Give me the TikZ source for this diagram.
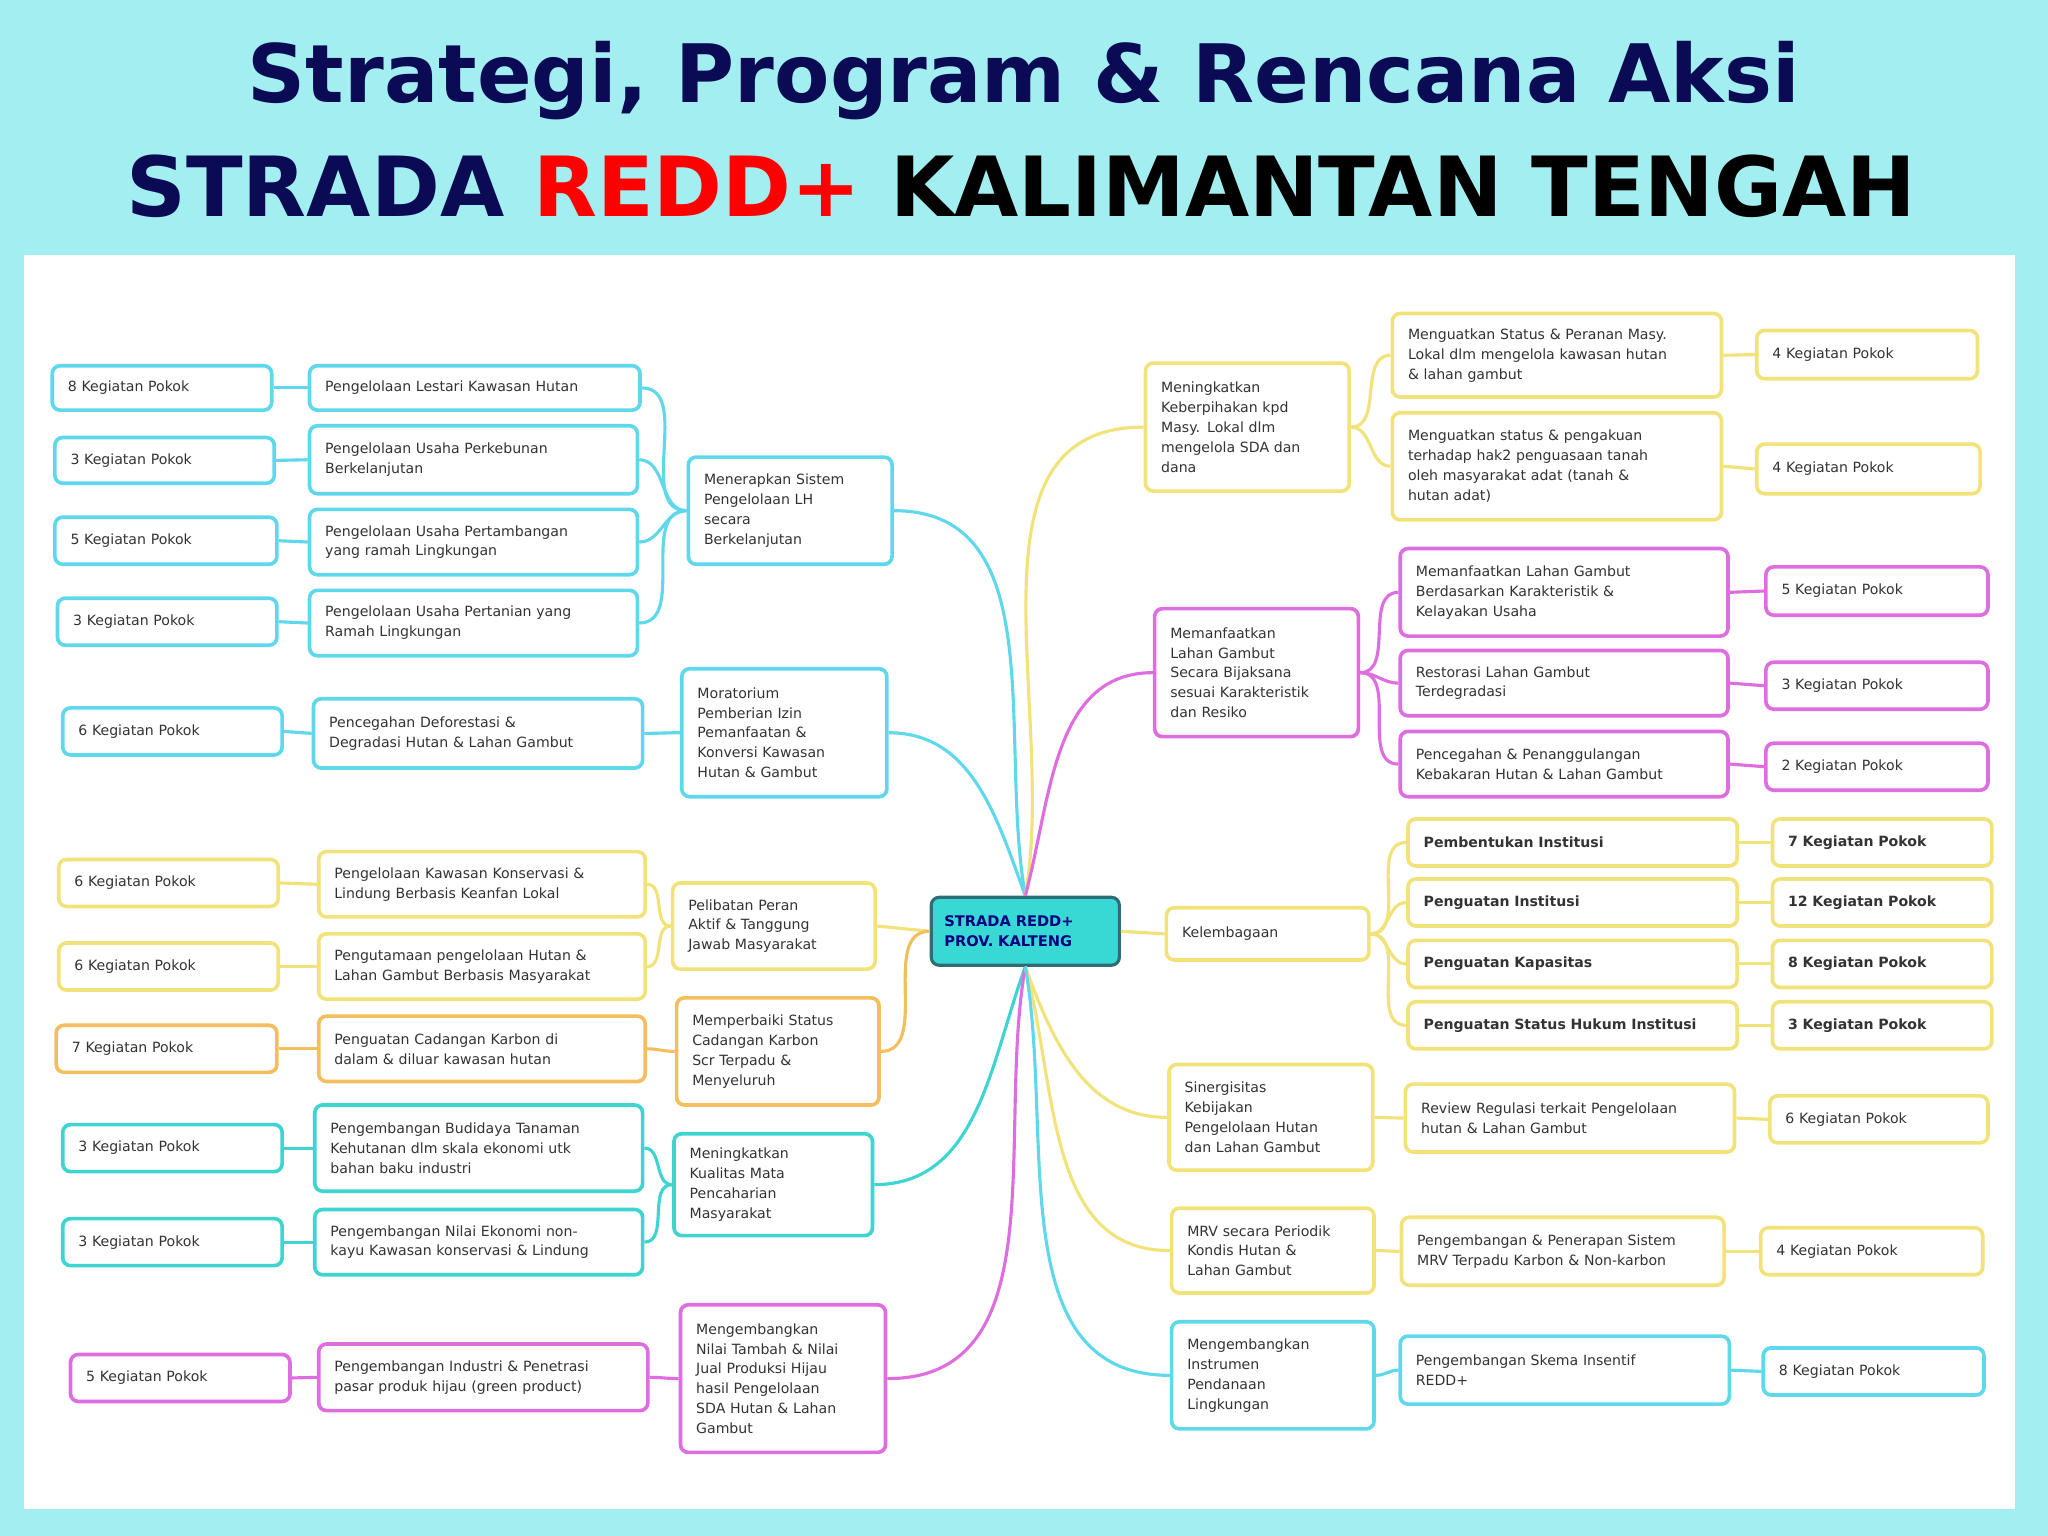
\documentclass[tikz,border=0pt]{standalone}
\usepackage{fontspec}
\setmainfont{DejaVu Sans}
\usepackage{graphicx}
\definecolor{bgc}{HTML}{A2EEF0}
\definecolor{cy}{HTML}{5ED8EA}
\definecolor{ye}{HTML}{F2E27A}
\definecolor{ma}{HTML}{DE6EE0}
\definecolor{orr}{HTML}{F3BE5E}
\definecolor{te}{HTML}{3ED4D0}
\definecolor{navy}{HTML}{0B0B55}
\definecolor{tx}{HTML}{333333}
\tikzset{
 bx/.style={draw=#1, line width=1.4pt, rounded corners=3pt, fill=white, align=left,
   inner xsep=6pt, inner ysep=2pt, text=tx, font=\fontsize{5.4}{7.6}\selectfont},
 ln/.style={draw=#1, line width=1.2pt},
}
\newcommand\bx[7]{\node[bx=#6, text width={(#4-#2)*0.5pt-12pt}, minimum height={(#5-#3)*0.5pt}]
  (#1) at ({(#2+#4)/2},{(#3+#5)/2}) {#7};}
\begin{document}
\begin{tikzpicture}[x=0.5pt,y=-0.5pt]
\useasboundingbox (0,0) rectangle (1568,1176);
\fill[bgc] (0,0) rectangle (1568,1176);
\fill[white] (18,195) rectangle (1543,1155);
\node[text=navy] (t1) at (784,62) {\resizebox{594pt}{!}{\bfseries Strategi, Program \& Rencana Aksi}};
\node (t2) at (782,143) {\resizebox{685pt}{!}{\bfseries\textcolor{navy}{STRADA} \textcolor{red}{REDD+} \textcolor{black}{KALIMANTAN TENGAH}}};
% center
\node[draw=cy!50!black, line width=1.2pt, rounded corners=3pt, fill=te!90!cyan, align=left, text=blue!50!black,
  font=\fontsize{5.6}{7.6}\selectfont\bfseries, minimum width=72pt, minimum height=26pt, text width=62pt] (c) at (785,713) {STRADA REDD+\\PROV. KALTENG};
% left
\bx{s1}{527}{350}{683}{432}{cy}{Menerapkan Sistem\\Pengelolaan LH\\secara\\Berkelanjutan}
\bx{s2}{522}{512}{679}{610}{cy}{Moratorium\\Pemberian Izin\\Pemanfaatan \&\\Konversi Kawasan\\Hutan \& Gambut}
\bx{s3}{515}{676}{670}{742}{ye}{Pelibatan Peran\\Aktif \& Tanggung\\Jawab Masyarakat}
\bx{s4}{518}{764}{673}{846}{orr}{Memperbaiki Status\\Cadangan Karbon\\Scr Terpadu \&\\Menyeluruh}
\bx{s5}{516}{868}{668}{946}{te}{Meningkatkan\\Kualitas Mata\\Pencaharian\\Masyarakat}
\bx{s6}{521}{999}{678}{1112}{ma}{Mengembangkan\\Nilai Tambah \& Nilai\\Jual Produksi Hijau\\hasil Pengelolaan\\SDA Hutan \& Lahan\\Gambut}
\draw[ln=cy] (c.north) to[out=100,in=0] (s1.east);
\draw[ln=cy] (c.north) to[out=110,in=0] (s2.east);
\draw[ln=ye] (c.west) -- (s3.east);
\draw[ln=orr] (c.west) to[out=180,in=0] (s4.east);
\draw[ln=te] (c.south) to[out=250,in=0] (s5.east);
\draw[ln=ma] (c.south) to[out=260,in=0] (s6.east);
\def\lp#1#2#3#4#5#6#7#8#9{\bx{#1}{#3}{#4}{#5}{#6}{#8}{#9}}
\bx{p1}{237}{280}{490}{314}{cy}{Pengelolaan Lestari Kawasan Hutan}
\bx{p2}{237}{326}{488}{378}{cy}{Pengelolaan Usaha Perkebunan\\Berkelanjutan}
\bx{p3}{237}{390}{488}{440}{cy}{Pengelolaan Usaha Pertambangan\\yang ramah Lingkungan}
\bx{p4}{237}{452}{488}{502}{cy}{Pengelolaan Usaha Pertanian yang\\Ramah Lingkungan}
\bx{p5}{240}{535}{492}{588}{cy}{Pencegahan Deforestasi \&\\Degradasi Hutan \& Lahan Gambut}
\bx{p6}{244}{652}{494}{702}{ye}{Pengelolaan Kawasan Konservasi \&\\Lindung Berbasis Keanfan Lokal}
\bx{p7}{244}{715}{494}{765}{ye}{Pengutamaan pengelolaan Hutan \&\\Lahan Gambut Berbasis Masyarakat}
\bx{p8}{244}{778}{494}{828}{orr}{Penguatan Cadangan Karbon di\\dalam \& diluar kawasan hutan}
\bx{p9}{241}{846}{492}{912}{te}{Pengembangan Budidaya Tanaman\\Kehutanan dlm skala ekonomi utk\\bahan baku industri}
\bx{p10}{241}{926}{492}{976}{te}{Pengembangan Nilai Ekonomi non-\\kayu Kawasan konservasi \& Lindung}
\bx{p11}{244}{1029}{496}{1080}{ma}{Pengembangan Industri \& Penetrasi\\pasar produk hijau (green product)}
\bx{k1}{40}{280}{208}{314}{cy}{8 Kegiatan Pokok}
\bx{k2}{42}{335}{210}{370}{cy}{3 Kegiatan Pokok}
\bx{k3}{42}{396}{212}{432}{cy}{5 Kegiatan Pokok}
\bx{k4}{44}{458}{212}{494}{cy}{3 Kegiatan Pokok}
\bx{k5}{48}{542}{216}{578}{cy}{6 Kegiatan Pokok}
\bx{k6}{45}{658}{213}{694}{ye}{6 Kegiatan Pokok}
\bx{k7}{45}{722}{213}{758}{ye}{6 Kegiatan Pokok}
\bx{k8}{43}{785}{212}{821}{orr}{7 Kegiatan Pokok}
\bx{k9}{48}{861}{216}{897}{te}{3 Kegiatan Pokok}
\bx{k10}{48}{933}{216}{969}{te}{3 Kegiatan Pokok}
\bx{k11}{54}{1037}{222}{1073}{ma}{5 Kegiatan Pokok}
\foreach \s/\p/\k/\cc in {s1/p1/k1/cy,s1/p2/k2/cy,s1/p3/k3/cy,s1/p4/k4/cy,s2/p5/k5/cy,s3/p6/k6/ye,s3/p7/k7/ye,s4/p8/k8/orr,s5/p9/k9/te,s5/p10/k10/te,s6/p11/k11/ma}{
  \draw[ln=\cc] (\s.west) to[out=180,in=0] (\p.east);
  \draw[ln=\cc] (\p.west) -- (\k.east);}
% right
\bx{r1}{877}{278}{1033}{376}{ye}{Meningkatkan\\Keberpihakan kpd\\Masy. Lokal dlm\\mengelola SDA dan\\dana}
\bx{r2}{884}{466}{1040}{564}{ma}{Memanfaatkan\\Lahan Gambut\\Secara Bijaksana\\sesuai Karakteristik\\dan Resiko}
\bx{r3}{893}{695}{1048}{735}{ye}{Kelembagaan}
\bx{r4}{895}{815}{1051}{896}{ye}{Sinergisitas\\Kebijakan\\Pengelolaan Hutan\\dan Lahan Gambut}
\bx{r5}{897}{925}{1052}{990}{ye}{MRV secara Periodik\\Kondis Hutan \&\\Lahan Gambut}
\bx{r6}{897}{1012}{1052}{1094}{cy}{Mengembangkan\\Instrumen\\Pendanaan\\Lingkungan}
\draw[ln=ye] (c.north) to[out=80,in=180] (r1.west);
\draw[ln=ma] (c.north) to[out=75,in=180] (r2.west);
\draw[ln=ye] (c.east) -- (r3.west);
\draw[ln=ye] (c.south) to[out=290,in=180] (r4.west);
\draw[ln=ye] (c.south) to[out=285,in=180] (r5.west);
\draw[ln=cy] (c.south) to[out=280,in=180] (r6.west);
\bx{q1}{1066}{240}{1318}{304}{ye}{Menguatkan Status \& Peranan Masy.\\Lokal dlm mengelola kawasan hutan\\\& lahan gambut}
\bx{q2}{1066}{316}{1318}{398}{ye}{Menguatkan status \& pengakuan\\terhadap hak2 penguasaan tanah\\oleh masyarakat adat (tanah \&\\hutan adat)}
\bx{q3}{1072}{420}{1323}{487}{ma}{Memanfaatkan Lahan Gambut\\Berdasarkan Karakteristik \&\\Kelayakan Usaha}
\bx{q4}{1072}{498}{1323}{548}{ma}{Restorasi Lahan Gambut\\Terdegradasi}
\bx{q5}{1072}{560}{1323}{610}{ma}{Pencegahan \& Penanggulangan\\Kebakaran Hutan \& Lahan Gambut}
\bx{q6}{1078}{627}{1330}{663}{ye}{\bfseries Pembentukan Institusi}
\bx{q7}{1078}{673}{1330}{709}{ye}{\bfseries Penguatan Institusi}
\bx{q8}{1078}{720}{1330}{756}{ye}{\bfseries Penguatan Kapasitas}
\bx{q9}{1078}{767}{1330}{803}{ye}{\bfseries Penguatan Status Hukum Institusi}
\bx{q10}{1076}{830}{1328}{882}{ye}{Review Regulasi terkait Pengelolaan\\hutan \& Lahan Gambut}
\bx{q11}{1073}{932}{1320}{984}{ye}{Pengembangan \& Penerapan Sistem\\MRV Terpadu Karbon \& Non-karbon}
\bx{q12}{1072}{1023}{1324}{1075}{cy}{Pengembangan Skema Insentif\\REDD+}
\bx{kk1}{1345}{253}{1514}{290}{ye}{4 Kegiatan Pokok}
\bx{kk2}{1345}{340}{1516}{378}{ye}{4 Kegiatan Pokok}
\bx{kk3}{1352}{434}{1522}{471}{ma}{5 Kegiatan Pokok}
\bx{kk4}{1352}{507}{1522}{543}{ma}{3 Kegiatan Pokok}
\bx{kk5}{1352}{569}{1522}{605}{ma}{2 Kegiatan Pokok}
\bx{kk6}{1357}{627}{1525}{663}{ye}{\bfseries 7 Kegiatan Pokok}
\bx{kk7}{1357}{673}{1525}{709}{ye}{\bfseries 12 Kegiatan Pokok}
\bx{kk8}{1357}{720}{1525}{756}{ye}{\bfseries 8 Kegiatan Pokok}
\bx{kk9}{1357}{767}{1525}{803}{ye}{\bfseries 3 Kegiatan Pokok}
\bx{kk10}{1355}{839}{1522}{875}{ye}{6 Kegiatan Pokok}
\bx{kk11}{1348}{940}{1518}{976}{ye}{4 Kegiatan Pokok}
\bx{kk12}{1350}{1032}{1519}{1068}{cy}{8 Kegiatan Pokok}
\foreach \r/\q/\k/\cc in {r1/q1/kk1/ye,r1/q2/kk2/ye,r2/q3/kk3/ma,r2/q4/kk4/ma,r2/q5/kk5/ma,r3/q6/kk6/ye,r3/q7/kk7/ye,r3/q8/kk8/ye,r3/q9/kk9/ye,r4/q10/kk10/ye,r5/q11/kk11/ye,r6/q12/kk12/cy}{
  \draw[ln=\cc] (\r.east) to[out=0,in=180] (\q.west);
  \draw[ln=\cc] (\q.east) -- (\k.west);}
\end{tikzpicture}
\end{document}
